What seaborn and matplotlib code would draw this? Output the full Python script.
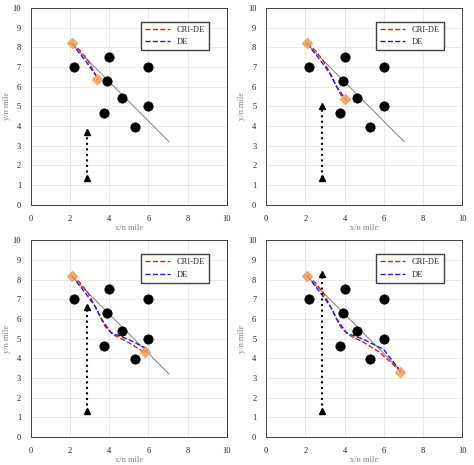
import numpy as np
import matplotlib
matplotlib.use('Agg')
import matplotlib.pyplot as plt
import seaborn as sns

# ----------------------- data -----------------------
obs_x = [2.2, 4.0, 6.0, 3.9, 4.65, 6.0, 3.75, 5.3]
obs_y = [7.0, 7.5, 7.0, 6.3, 5.4, 5.0, 4.65, 3.95]
ref_x = [2.0, 7.05]
ref_y = [8.25, 3.2]
cri_x = [2.1, 2.5, 2.9, 3.2, 3.5, 3.8, 4.2, 5.0, 5.8, 6.85]
cri_y = [8.2, 7.85, 7.35, 6.8, 6.2, 5.6, 5.2, 4.8, 4.3, 3.35]
de_x = [2.1, 2.4, 2.8, 3.3, 3.6, 4.1, 5.0, 6.0, 6.85]
de_y = [8.2, 7.8, 7.3, 6.6, 6.0, 5.3, 4.95, 4.45, 3.35]
# points of each path drawn per panel
cri_n = [5, 6, 9, 10]
de_n = [4, 6, 8, 9]
own_x = [3.4, 4.0, 5.8, 6.85]
own_y = [6.4, 5.35, 4.3, 3.3]
tgt_x = 2.85
tgt_y0 = 1.35
tgt_y1 = [3.7, 5.0, 6.6, 8.3]

sns.set_theme(style='whitegrid')
plt.rcParams['font.family'] = ['Liberation Serif', 'DejaVu Serif']
plt.rcParams['font.size'] = 7

fig, axes = plt.subplots(2, 2, figsize=(4.74, 4.65), dpi=100)
for k, ax in enumerate(axes.ravel()):
    ax.plot(ref_x, ref_y, color='gray', lw=0.7)
    sns.scatterplot(x=obs_x, y=obs_y, ax=ax, color='black', s=45, edgecolor='black', zorder=3)
    ax.plot(cri_x[:cri_n[k]] + [own_x[k]], cri_y[:cri_n[k]] + [own_y[k]], '--', color='#d02020', lw=1, label='CRI-DE')
    ax.plot(de_x[:de_n[k]] + [own_x[k]], de_y[:de_n[k]] + [own_y[k]], '--', color='#2020d0', lw=1, label='DE')
    ax.plot([2.1, own_x[k]], [8.2, own_y[k]], 'D', color='#f0a060', ms=5, alpha=0.85, zorder=4)
    ax.plot([tgt_x, tgt_x], [tgt_y0, tgt_y1[k]], ':', color='black', lw=1.5)
    ax.plot([tgt_x, tgt_x], [tgt_y0, tgt_y1[k]], '^', color='black', ms=4)
    ax.set_xlim(0, 10)
    ax.set_ylim(0, 10)
    ax.set_xticks(range(0, 11, 2))
    ax.set_yticks(range(0, 11))
    ax.set_xlabel('x/n mile', fontsize=6, color='gray', labelpad=1)
    ax.set_ylabel('y/n mile', fontsize=6, color='gray', labelpad=1)
    ax.tick_params(labelsize=6, pad=1, labelcolor='#222222')
    ax.grid(color='#e6e6e6', lw=0.6)
    for s in ax.spines.values():
        s.set_edgecolor('#404040')
        s.set_linewidth(0.7)
    leg = ax.legend(loc='upper right', fontsize=6, fancybox=False, framealpha=1,
                    handlelength=3, borderpad=0.5, labelspacing=0.5,
                    bbox_to_anchor=(0.93, 0.95))
    leg.get_frame().set_edgecolor('#404040')

plt.subplots_adjust(left=0.065, right=0.975, bottom=0.06, top=0.983, wspace=0.2, hspace=0.18)
plt.savefig('out.png', dpi=100)
